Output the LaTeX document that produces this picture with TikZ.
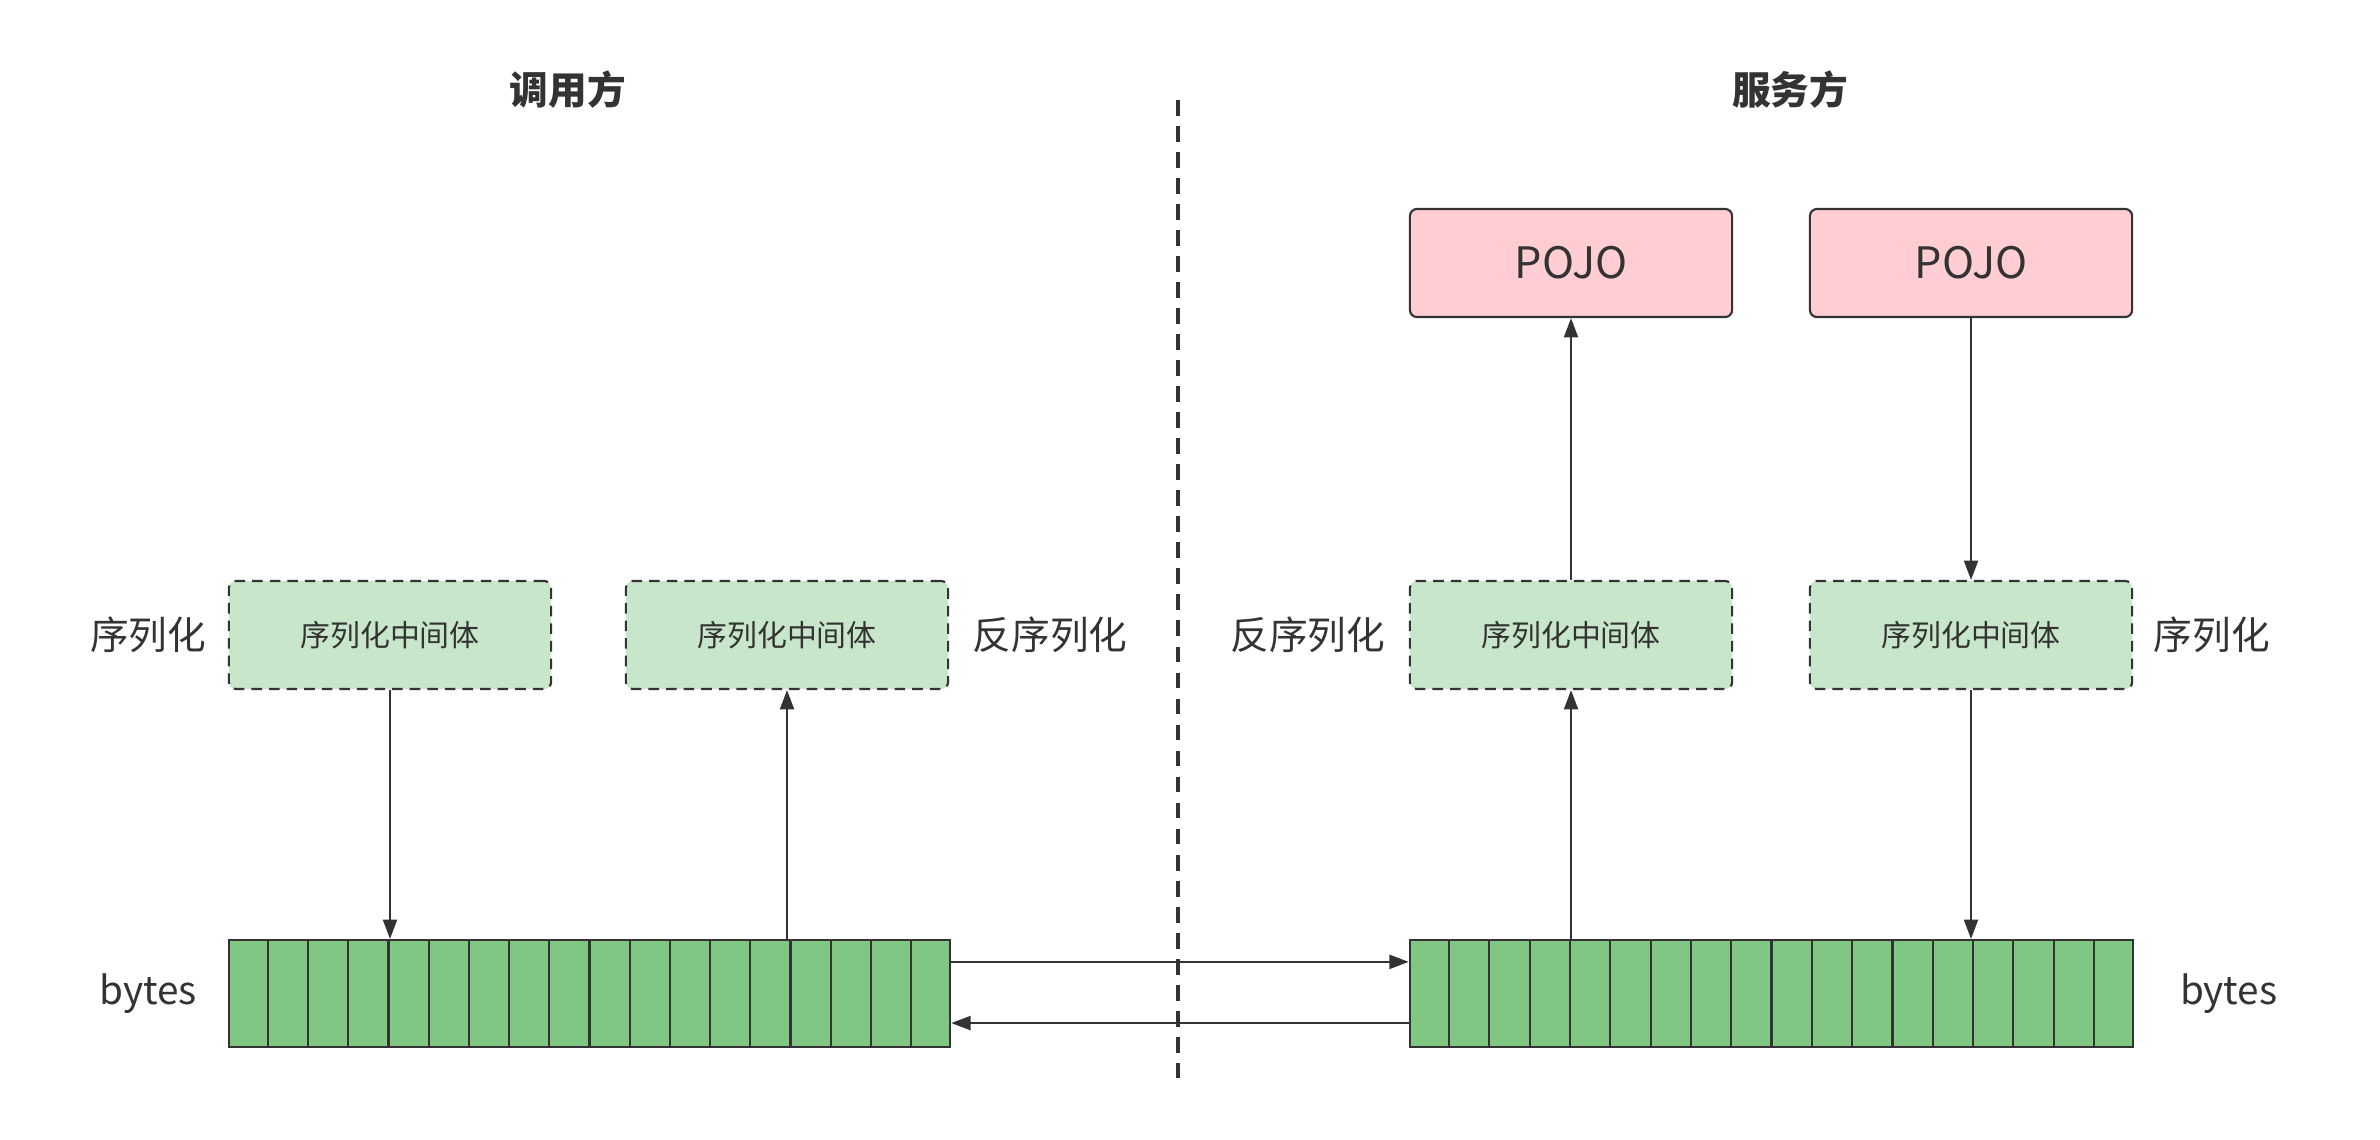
\documentclass[tikz,border=0pt]{standalone}
\usepackage{fontspec}
\setmainfont{Noto Sans CJK SC}
\usepackage{xcolor}
\usetikzlibrary{arrows.meta, positioning, calc}
\definecolor{midgreen}{HTML}{C8E6C9}
\definecolor{bytegreen}{HTML}{81C784}
\definecolor{pojopink}{HTML}{FFCDD2}
\definecolor{edgegray}{HTML}{333333}
\tikzstyle{arrow} = [line width=0.55pt,edgegray,-{Triangle[length=5.5pt,width=4pt]}]
\tikzstyle{midbox} = [draw=edgegray,fill=midgreen,line width=0.6pt,dash pattern=on 3pt off 2pt,rounded corners=2pt,minimum width=3.22cm,minimum height=1.08cm,text=edgegray,font=\fontsize{8.5}{10}\selectfont]
\tikzstyle{pojobox} = [draw=edgegray,fill=pojopink,line width=0.6pt,rounded corners=2pt,minimum width=3.22cm,minimum height=1.08cm,text=edgegray,font=\fontsize{12.3}{14}\selectfont]
\tikzstyle{bytebar} = [draw=edgegray,fill=bytegreen,line width=0.6pt,minimum height=1.07cm]
\tikzstyle{sidelabel} = [inner sep=0pt,text=edgegray,font=\fontsize{11}{13}\selectfont]
\tikzstyle{sidetitle} = [inner sep=0pt,text=edgegray,font=\fontsize{11}{13}\selectfont\bfseries]

\begin{document}
\begin{tikzpicture}[x=0.01cm,y=-0.01cm]
                \useasboundingbox (0,0) rectangle (2380,1139);
                % titles
                \node[sidetitle] (caller) at (568,90) {调用方};
                \node[sidetitle] (server) at (1790,90) {服务方};
                \coordinate (divtop) at (1178,100);
                \coordinate (divbot) at (1178,1078);
                \draw[edgegray,line width=1.1pt,dash pattern=on 4.5pt off 2.9pt] (divtop) -- (divbot);
                % caller side
                \node[midbox] (serA) at (390,635) {序列化中间体};
                \node[midbox] (deserA) at (787,635) {序列化中间体};
                \node[bytebar,minimum width=7.21cm] (bytesA) at (589.5,993.5) {};
                \node[sidelabel,left=0.21cm of serA] (lblSerA) {序列化};
                \node[sidelabel,right=0.23cm of deserA] (lblDeserA) {反序列化};
                \node[sidelabel,left=0.3cm of bytesA] (lblBytesA) {bytes};
                % server side
                \node[pojobox] (pojoB) at (1571,263) {POJO};
                \node[pojobox] (pojoC) at (1971,263) {POJO};
                \node[midbox] (deserB) at (1571,635) {序列化中间体};
                \node[midbox] (serB) at (1971,635) {序列化中间体};
                \node[bytebar,minimum width=7.23cm] (bytesB) at (1771.5,993.5) {};
                \node[sidelabel,left=0.23cm of deserB] (lblDeserB) {反序列化};
                \node[sidelabel,right=0.2cm of serB] (lblSerB) {序列化};
                \node[sidelabel,right=0.45cm of bytesB] (lblBytesB) {bytes};
                % byte cells
                \foreach \bar in {bytesA,bytesB}
                    \foreach \i in {1,...,17}
                        \draw[edgegray,line width=0.6pt] ($(\bar.north west)!\i/18!(\bar.north east)$) -- ($(\bar.south west)!\i/18!(\bar.south east)$);
                % connectors
                \draw[arrow] (serA) -- (bytesA.north -| serA);
                \draw[arrow] (bytesA.north -| deserA) -- (deserA);
                \draw[arrow] (bytesB.north -| deserB) -- (deserB);
                \draw[arrow] (deserB) -- (pojoB);
                \draw[arrow] (pojoC) -- (serB);
                \draw[arrow] (serB) -- (bytesB.north -| serB);
                \draw[arrow] ([yshift=9pt]bytesA.east) -- ([yshift=9pt]bytesB.west);
                \draw[arrow] ([yshift=-8.4pt]bytesB.west) -- ([yshift=-8.4pt]bytesA.east);
            \end{tikzpicture}
\end{document}
